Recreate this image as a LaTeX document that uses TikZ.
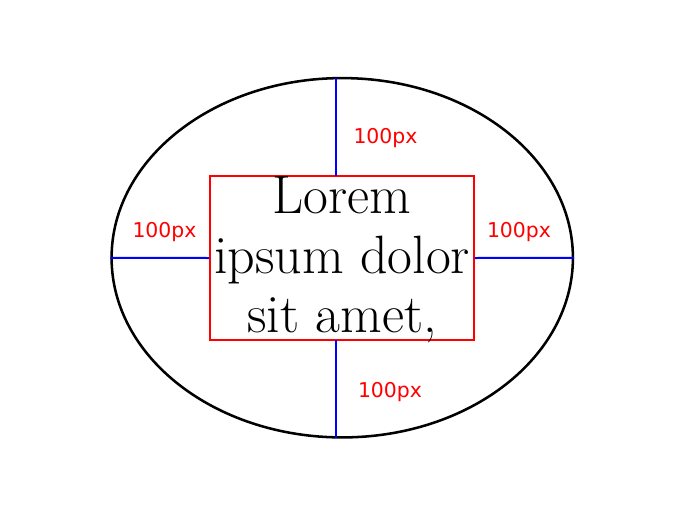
\documentclass[tikz,border=0pt]{standalone}
\usepackage{fontspec}
\newfontfamily\labelfont{DejaVu Sans}
\usetikzlibrary{shapes.geometric}
\begin{document}
\begin{tikzpicture}[x=0.75pt,y=-0.75pt,
  outline/.style={draw=black,line width=1.9pt,ellipse,inner sep=0pt,minimum width=346pt,minimum height=269.5pt},
  textbox/.style={draw=red,line width=1.2pt,inner sep=0pt,minimum width=198pt,minimum height=123pt},
  guide/.style={draw=blue,line width=1.5pt},
  dim/.style={text=red,font=\labelfont\fontsize{15.3}{18}\selectfont,inner sep=0pt,anchor=base},
  lorem/.style={font=\fontsize{40.5}{45}\selectfont,inner sep=0pt,anchor=base}]
\useasboundingbox (0,0) rectangle (682,508);
\node[outline] (ell) at (342.25,257.75) {};
\node[textbox] (box) at (342,258) {};
\node[lorem] (l1) at (342,213) {Lorem};
\node[lorem] (l2) at (342,273) {ipsum dolor};
\node[lorem] (l3) at (342,332.5) {sit amet,};
\coordinate (tb) at (336,176);
\coordinate (te) at (336,78);
\coordinate (bb) at (336,340);
\coordinate (be) at (336,437.5);
\draw[guide] (tb) -- (te);
\draw[guide] (bb) -- (be);
\draw[guide] (box.west) -- (ell.west);
\draw[guide] (box.east) -- (ell.east);
\node[dim] (dt) at (385.5,143) {100px};
\node[dim] (db) at (390,397) {100px};
\node[dim] (dl) at (164.5,237) {100px};
\node[dim] (dr) at (519,237) {100px};
\end{tikzpicture}
\end{document}
